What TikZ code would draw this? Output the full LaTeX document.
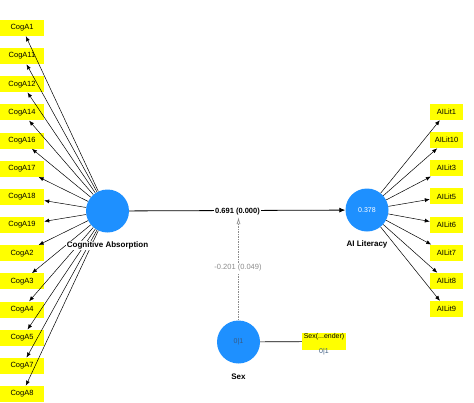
\documentclass[tikz,border=0pt]{standalone}
\usepackage{fontspec}
\setmainfont{Liberation Sans}
\usetikzlibrary{positioning, arrows.meta}
\definecolor{latblue}{HTML}{1E90FF}
\definecolor{indyellow}{HTML}{FFFF00}
\definecolor{pathgray}{HTML}{8C8C8C}
\definecolor{valtext}{HTML}{3A5A80}

\begin{document}
\begin{tikzpicture}[
  x=1pt, y=-1pt,
  latent/.style={
    circle, fill=latblue, minimum size=43pt, inner sep=0pt,
    font=\fontsize{7}{8}\selectfont, text=white
  },
  ind/.style={
    rectangle, fill=indyellow, minimum height=16pt, inner sep=1pt,
    font=\fontsize{7.5}{9}\selectfont, text=black, align=center
  },
  latname/.style={font=\fontsize{8}{10}\selectfont\bfseries, fill=white, inner sep=1pt},
  loadarrow/.style={
    line width=0.5pt, -{Latex[length=5pt, width=4pt]}, color=black
  },
  patharrow/.style={
    line width=0.8pt, -{Latex[length=6pt, width=5pt]}, color=black
  },
  modarrow/.style={
    line width=0.6pt, dash pattern=on 1.5pt off 1pt,
    -{Latex[length=7pt, width=4pt, open]}, color=pathgray
  }
]
\useasboundingbox (0,0) rectangle (474,402);

%% Column x-positions
\def\xL{22}
\def\xR{446.5}
\def\rowsp{28.15}
\def\topoff{28}
\def\topright{112}

%% === LATENT VARIABLES ===
\node[latent] (ca) at (107.5, 211) {};
\node[latent] (ail) at (367, 210) {0.378};
\node[latent, text=valtext] (sex) at (238.5, 342) {0|1};

%% === LEFT INDICATORS (Cognitive Absorption) ===
\node[ind, minimum width=44pt] (c1)  at (\xL, \topoff + 0*\rowsp)  {CogA1};
\node[ind, minimum width=44pt] (c2)  at (\xL, \topoff + 1*\rowsp)  {CogA11};
\node[ind, minimum width=44pt] (c3)  at (\xL, \topoff + 2*\rowsp)  {CogA12};
\node[ind, minimum width=44pt] (c4)  at (\xL, \topoff + 3*\rowsp)  {CogA14};
\node[ind, minimum width=44pt] (c5)  at (\xL, \topoff + 4*\rowsp)  {CogA16};
\node[ind, minimum width=44pt] (c6)  at (\xL, \topoff + 5*\rowsp)  {CogA17};
\node[ind, minimum width=44pt] (c7)  at (\xL, \topoff + 6*\rowsp)  {CogA18};
\node[ind, minimum width=44pt] (c8)  at (\xL, \topoff + 7*\rowsp)  {CogA19};
\node[ind, minimum width=44pt] (c9)  at (\xL, \topoff + 8*\rowsp)  {CogA2};
\node[ind, minimum width=44pt] (c10) at (\xL, \topoff + 9*\rowsp)  {CogA3};
\node[ind, minimum width=44pt] (c11) at (\xL, \topoff + 10*\rowsp) {CogA4};
\node[ind, minimum width=44pt] (c12) at (\xL, \topoff + 11*\rowsp) {CogA5};
\node[ind, minimum width=44pt] (c13) at (\xL, \topoff + 12*\rowsp) {CogA7};
\node[ind, minimum width=44pt] (c14) at (\xL, \topoff + 13*\rowsp) {CogA8};

%% === RIGHT INDICATORS (AI Literacy) ===
\node[ind, minimum width=33pt] (a1) at (\xR, \topright + 0*\rowsp) {AILit1};
\node[ind, minimum width=33pt] (a2) at (\xR, \topright + 1*\rowsp) {AILit10};
\node[ind, minimum width=33pt] (a3) at (\xR, \topright + 2*\rowsp) {AILit3};
\node[ind, minimum width=33pt] (a4) at (\xR, \topright + 3*\rowsp) {AILit5};
\node[ind, minimum width=33pt] (a5) at (\xR, \topright + 4*\rowsp) {AILit6};
\node[ind, minimum width=33pt] (a6) at (\xR, \topright + 5*\rowsp) {AILit7};
\node[ind, minimum width=33pt] (a7) at (\xR, \topright + 6*\rowsp) {AILit8};
\node[ind, minimum width=33pt] (a8) at (\xR, \topright + 7*\rowsp) {AILit9};

%% === SEX INDICATOR ===
\node[ind, minimum width=44pt, minimum height=17pt] (sexbox) at (324, 341.5) {};
\node[font=\fontsize{7}{8}\selectfont, inner sep=0pt] (sexlbl) at (324, 337) {Sex(...ender)};
\node[font=\fontsize{7}{8}\selectfont, inner sep=0pt, text=valtext] (sexval) at (324, 352) {0|1};
\draw[line width=0.7pt] (sex) -- (sexbox);

%% === LOADINGS ===
\draw[loadarrow] (ca) -- (c1);
\draw[loadarrow] (ca) -- (c2);
\draw[loadarrow] (ca) -- (c3);
\draw[loadarrow] (ca) -- (c4);
\draw[loadarrow] (ca) -- (c5);
\draw[loadarrow] (ca) -- (c6);
\draw[loadarrow] (ca) -- (c7);
\draw[loadarrow] (ca) -- (c8);
\draw[loadarrow] (ca) -- (c9);
\draw[loadarrow] (ca) -- (c10);
\draw[loadarrow] (ca) -- (c11);
\draw[loadarrow] (ca) -- (c12);
\draw[loadarrow] (ca) -- (c13);
\draw[loadarrow] (ca) -- (c14);

\draw[loadarrow] (ail) -- (a1);
\draw[loadarrow] (ail) -- (a2);
\draw[loadarrow] (ail) -- (a3);
\draw[loadarrow] (ail) -- (a4);
\draw[loadarrow] (ail) -- (a5);
\draw[loadarrow] (ail) -- (a6);
\draw[loadarrow] (ail) -- (a7);
\draw[loadarrow] (ail) -- (a8);

%% === LATENT NAMES (white, over the loadings) ===
\node[latname, below=8pt of ca] (caname) {Cognitive Absorption};
\node[latname, below=8pt of ail] (ailname) {AI Literacy};
\node[latname, below=9pt of sex] (sexname) {Sex};

%% === STRUCTURAL PATH + MODERATION ===
\draw[patharrow] (ca) -- (ail);
\node[font=\fontsize{7.5}{9}\selectfont\bfseries, fill=white, inner sep=1.5pt]
  (pathlbl) at (237.5, 212) {0.691 (0.000)};
\draw[modarrow] (sex.north) -- (sex.north |- pathlbl.south);
\node[font=\fontsize{7.5}{9}\selectfont, text=pathgray, fill=white, inner sep=1.5pt]
  (modlbl) at (238, 268) {-0.201 (0.049)};

\end{tikzpicture}
\end{document}
